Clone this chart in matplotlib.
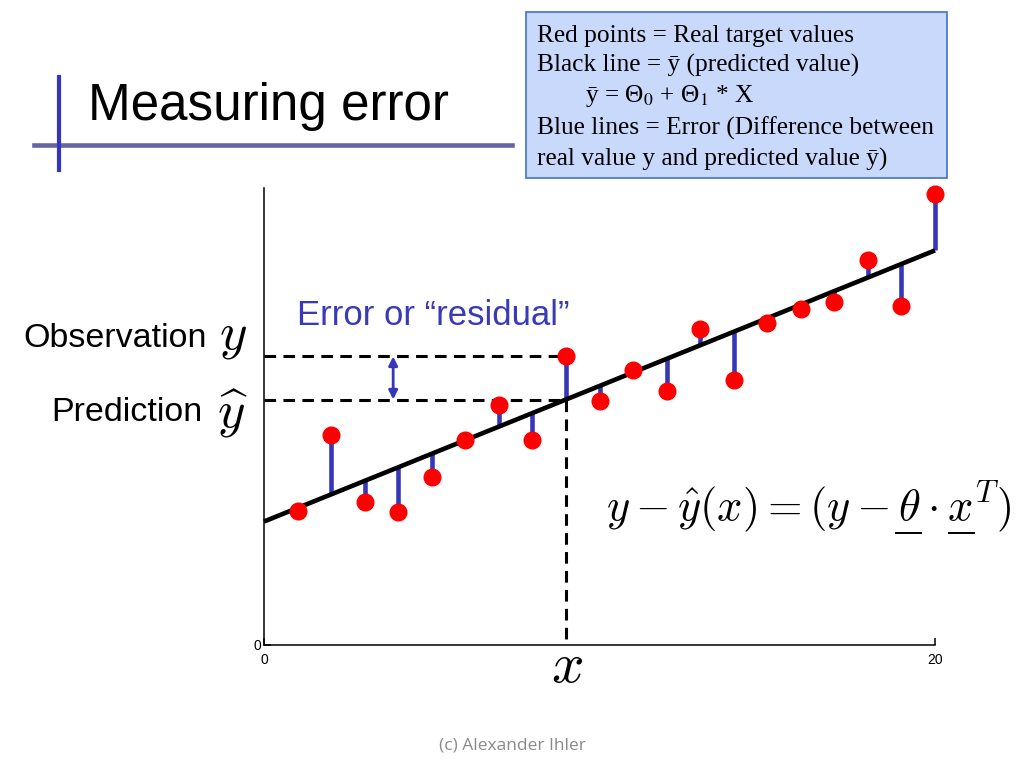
import matplotlib
matplotlib.use("Agg")
import matplotlib.pyplot as plt
from matplotlib.lines import Line2D
from matplotlib.patches import Rectangle
import numpy as np

# data
x_vals = [1, 2, 3, 4, 5, 6, 7, 8, 9, 10, 11, 12, 13, 14, 15, 16, 17, 18, 19, 20]
y_vals = [4.00, 6.27, 4.27, 3.97, 5.01, 6.12, 7.16, 6.12, 8.60, 7.28,
          8.21, 7.58, 9.43, 7.91, 9.61, 10.00, 10.21, 11.46, 10.09, 13.43]
theta0 = 3.68
theta1 = 0.404
x_focus = 9          # point used for the observation / prediction guides
x_ticks = [0, 20]
y_ticks = [0]

box_lines = [
    "Red points = Real target values",
    "Black line = ȳ (predicted value)",
    "ȳ = Θ$_0$ + Θ$_1$ * X",
    "Blue lines = Error (Difference between",
    "real value y and predicted value ȳ)",
]

W, H = 1024, 768
plt.rcParams['mathtext.fontset'] = 'cm'
fig = plt.figure(figsize=(W / 100, H / 100), dpi=100)


def fx(px):
    return px / W


def fy(py):
    return 1 - py / H


ax = fig.add_axes([fx(264), fy(645), fx(935) - fx(264), fy(188) - fy(645)])
ax.set_xlim(0, 20)
ax.set_ylim(0, 13.62)

xs = np.array(x_vals)
ys = np.array(y_vals)
pred = theta0 + theta1 * xs

blue = '#3636b8'
ax.vlines(xs, pred, ys, color=blue, lw=3.3, zorder=2, clip_on=False)
ax.plot([0, 20], [theta0, theta0 + theta1 * 20], color='black', lw=3.3,
        solid_capstyle='butt', zorder=3, clip_on=False)
ax.plot(xs, ys, 'o', color='#ff0000', markersize=12, zorder=4, clip_on=False)

# observation / prediction guides
i = x_vals.index(x_focus)
y_obs = y_vals[i]
y_hat = theta0 + theta1 * x_focus
dash = dict(color='black', lw=2.2, dashes=(3.8, 2.4), zorder=1)
ax.plot([0, x_focus], [y_obs, y_obs], **dash)
ax.plot([0, x_focus], [y_hat, y_hat], **dash)
ax.plot([x_focus, x_focus], [y_hat, 0], **dash)
ax.annotate('', xy=(3.85, y_obs), xytext=(3.85, y_hat),
            arrowprops=dict(arrowstyle='<|-|>', color=blue, lw=2,
                            mutation_scale=13, shrinkA=0, shrinkB=0))

for s in ['top', 'right']:
    ax.spines[s].set_visible(False)
for s in ['left', 'bottom']:
    ax.spines[s].set_linewidth(1.1)
ax.set_xticks(x_ticks)
ax.set_yticks(y_ticks)
ax.tick_params(direction='in', length=5, width=1.1, labelsize=10)
ax.tick_params(axis='x', pad=6)
ax.tick_params(axis='y', pad=2)
for lab in ax.get_xticklabels() + ax.get_yticklabels():
    lab.set_family('Liberation Sans')

# title area
fig.text(fx(88), fy(120), 'Measuring error', fontsize=36.8,
         family='Liberation Sans', va='baseline')
fig.add_artist(Line2D([fx(34), fx(512)], [fy(145), fy(145)],
                      transform=fig.transFigure, color='#6666a6', lw=3.3))
fig.add_artist(Line2D([fx(59), fx(59)], [fy(77), fy(170)],
                      transform=fig.transFigure, color='#3434bd', lw=3.0))

# legend box
fig.add_artist(Rectangle((fx(526), fy(178)), fx(947) - fx(526), fy(12) - fy(178),
                         transform=fig.transFigure, facecolor='#c8d9fc',
                         edgecolor='#4472c4', lw=1.2))
baselines = [42, 72, 102, 135, 166]
for k, (txt, b) in enumerate(zip(box_lines, baselines)):
    left = 585 if k == 2 else 537
    fig.text(fx(left), fy(b), txt, fontsize=18.3, family='Liberation Serif',
             va='baseline', math_fontfamily='stix')

# labels
fig.text(fx(297), fy(325), 'Error or \u201cresidual\u201d', fontsize=25,
         family='Liberation Sans', color='#3a3ab8', va='baseline')
fig.text(fx(207), fy(347), 'Observation', fontsize=24.5, family='Liberation Sans',
         ha='right', va='baseline')
fig.text(fx(203), fy(421), 'Prediction', fontsize=24.5, family='Liberation Sans',
         ha='right', va='baseline')
fig.text(fx(219), fy(349), r'$y$', fontsize=38, va='baseline')
fig.text(fx(217), fy(427), r'$\widehat{y}$', fontsize=38, va='baseline')
fig.text(fx(567), fy(682), r'$x$', fontsize=41, ha='center', va='baseline')

# mathtext has no \underline, so the two bars are drawn by hand
formula = r'$y - \hat{y}(x) = (y - \theta \cdot x^T)$'
fig.text(fx(606), fy(520), formula, fontsize=32, va='baseline')
for x0, x1 in [(896, 921), (949, 974)]:
    fig.add_artist(Line2D([fx(x0), fx(x1)], [fy(533), fy(533)],
                          transform=fig.transFigure, color='black', lw=1.4))

fig.text(0.5, fy(749), '(c) Alexander Ihler', fontsize=12.5, family='Open Sans',
         color='#8a8a8a', ha='center', va='baseline')

fig.savefig('out.png', dpi=100)
